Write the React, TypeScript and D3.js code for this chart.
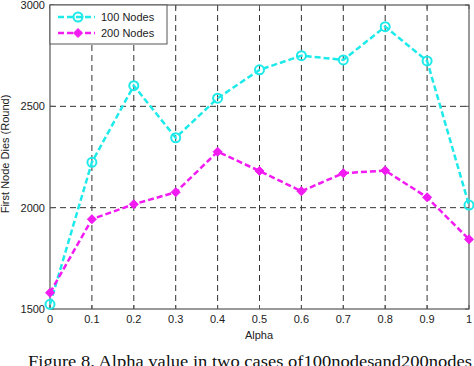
import React from "react";
import * as d3 from "d3";

const alphas = [0, 0.1, 0.2, 0.3, 0.4, 0.5, 0.6, 0.7, 0.8, 0.9, 1];
const nodes100 = [1523, 2224, 2602, 2345, 2540, 2680, 2750, 2729, 2893, 2724, 2013];
const nodes200 = [1580, 1943, 2017, 2076, 2276, 2181, 2081, 2170, 2183, 2051, 1844];
const xTicks = [0, 0.1, 0.2, 0.3, 0.4, 0.5, 0.6, 0.7, 0.8, 0.9, 1];
const yTicks = [1500, 2000, 2500, 3000];
const seriesNames = ["100 Nodes", "200 Nodes"];

const W = 474, H = 366;
const L = 50, R = 469, T = 5, B = 309;

export default function App() {
  const x = d3.scaleLinear().domain([0, 1]).range([L, R]);
  const y = d3.scaleLinear().domain([1500, 3000]).range([B, T]);
  const line = d3.line<number>().x((_, i) => x(alphas[i])).y((d) => y(d));
  const font = "Liberation Sans, Arial, sans-serif";
  const cyan = "#1EEAEA";
  const mag = "#F21BF2";
  const diamond = (cx: number, cy: number, r: number) =>
    `M${cx},${cy - r}L${cx + r},${cy}L${cx},${cy + r}L${cx - r},${cy}Z`;
  return (
    <svg width={W} height={H} style={{ position: "absolute", left: 0, top: 0, background: "#fff" }}>
      <rect x={0} y={0} width={W} height={H} fill="#fff" />
      {/* grid */}
      {xTicks.slice(1, -1).map((t) => (
        <line key={"gx" + t} x1={x(t)} x2={x(t)} y1={T} y2={B} stroke="#333" strokeWidth={1} strokeDasharray="6,4" />
      ))}
      {yTicks.slice(1, -1).map((t) => (
        <line key={"gy" + t} x1={L} x2={R} y1={y(t)} y2={y(t)} stroke="#333" strokeWidth={1} strokeDasharray="6,4" />
      ))}
      {/* box */}
      <rect x={L} y={T} width={R - L} height={B - T} fill="none" stroke="#555" strokeWidth={1.2} />
      {/* ticks */}
      {xTicks.map((t) => (
        <g key={"xt" + t}>
          <line x1={x(t)} x2={x(t)} y1={B} y2={B - 4} stroke="#555" />
          <line x1={x(t)} x2={x(t)} y1={T} y2={T + 4} stroke="#555" />
          <text x={x(t)} y={323} textAnchor="middle" fontFamily={font} fontSize={11} fill="#222">{String(t)}</text>
        </g>
      ))}
      {yTicks.map((t) => (
        <g key={"yt" + t}>
          <line x1={L} x2={L + 4} y1={y(t)} y2={y(t)} stroke="#555" />
          <line x1={R} x2={R - 4} y1={y(t)} y2={y(t)} stroke="#555" />
          <text x={45} y={y(t) + 4} textAnchor="end" fontFamily={font} fontSize={11} fill="#222">{t}</text>
        </g>
      ))}
      <text x={259} y={339} textAnchor="middle" fontFamily={font} fontSize={11} fill="#222">Alpha</text>
      <text transform={`translate(9,154) rotate(-90)`} textAnchor="middle" fontFamily={font} fontSize={11} fill="#222">First Node Dies (Round)</text>
      {/* series */}
      <path d={line(nodes100) || ""} fill="none" stroke={cyan} strokeWidth={2.5} strokeDasharray="6,3" />
      <path d={line(nodes200) || ""} fill="none" stroke={mag} strokeWidth={2.5} strokeDasharray="6,3" />
      {nodes100.map((v, i) => (
        <circle key={"c" + i} cx={x(alphas[i])} cy={y(v)} r={4.5} fill="none" stroke={cyan} strokeWidth={2} />
      ))}
      {nodes200.map((v, i) => (
        <path key={"d" + i} d={diamond(x(alphas[i]), y(v), 4.5)} fill={mag} stroke={mag} strokeWidth={1} />
      ))}
      {/* legend */}
      <rect x={L} y={T} width={117} height={39} fill="#fff" stroke="#555" strokeWidth={1} />
      <line x1={58} x2={95} y1={17} y2={17} stroke={cyan} strokeWidth={2.5} strokeDasharray="6,3" />
      <circle cx={78} cy={17} r={4.5} fill="none" stroke={cyan} strokeWidth={2} />
      <text x={101} y={21} fontFamily={font} fontSize={11} fill="#222">{seriesNames[0]}</text>
      <line x1={58} x2={95} y1={33} y2={33} stroke={mag} strokeWidth={2.5} strokeDasharray="6,3" />
      <path d={diamond(78, 33, 4.5)} fill={mag} stroke={mag} />
      <text x={101} y={37} fontFamily={font} fontSize={11} fill="#222">{seriesNames[1]}</text>
      {/* caption */}
      <text x={28} y={367} fontFamily="Liberation Serif, Times New Roman, serif" fontSize={17} fill="#111" textLength={444} lengthAdjust="spacingAndGlyphs">Figure 8. Alpha value in two cases of100nodesand200nodes</text>
    </svg>
  );
}
